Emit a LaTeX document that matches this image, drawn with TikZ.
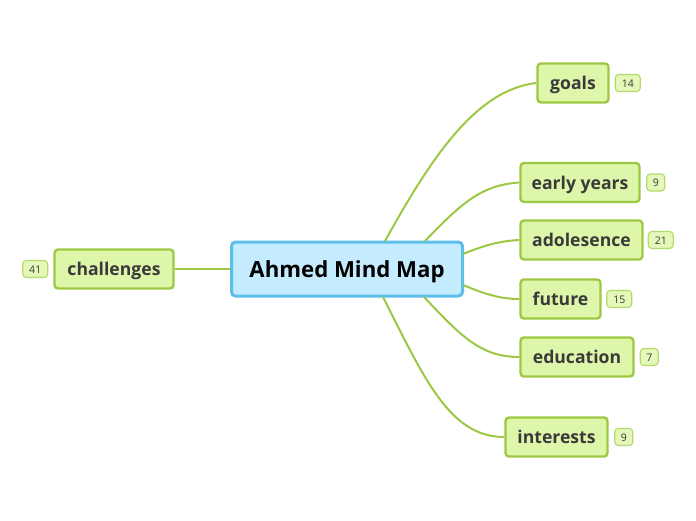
\documentclass[tikz,border=0pt]{standalone}
\usepackage{fontspec}
\setmainfont{Open Sans}
\usetikzlibrary{positioning}
\definecolor{branchfill}{HTML}{DEF6A9}
\definecolor{branchline}{HTML}{9CC843}
\definecolor{centerfill}{HTML}{C4EBFE}
\definecolor{centerline}{HTML}{5CBFEA}
\definecolor{countfill}{HTML}{E4F8BA}
\definecolor{countline}{HTML}{B3D96C}
\definecolor{labeltext}{HTML}{3A3A3A}
\tikzset{
  central/.style = {rectangle, rounded corners=4pt, draw=centerline, fill=centerfill, line width=3pt, minimum width=231pt, minimum height=54pt, inner sep=0pt, text height=16pt, text depth=0pt, font=\fontsize{22.2}{26}\selectfont\bfseries, text=black},
  topic/.style = {rectangle, rounded corners=3.5pt, draw=branchline, fill=branchfill, line width=2.4pt, minimum height=39pt, inner sep=0pt, text height=13pt, text depth=0pt, font=\fontsize{17.6}{20}\selectfont\bfseries, text=labeltext},
  count/.style = {rectangle, rounded corners=3.5pt, draw=countline, fill=countfill, line width=1.1pt, minimum height=17pt, inner sep=0pt, text height=8.5pt, text depth=0pt, font=\fontsize{10.5}{13}\selectfont, text=labeltext},
  branch/.style = {draw=branchline, line width=2pt}
}
\begin{document}
\begin{tikzpicture}[x=1pt, y=-1pt]
  \useasboundingbox (0,0) rectangle (696,520);

  % Central topic
  \node (map) [central] at (347,269) {Ahmed Mind Map};

  % Main topics
  \node (goals) [topic, minimum width=71pt] at (573,83) {goals};
  \node (early) [topic, minimum width=119pt] at (580,182.5) {early years};
  \node (adol) [topic, minimum width=122pt] at (581.5,240) {adolesence};
  \node (future) [topic, minimum width=80pt] at (560.5,299) {future};
  \node (educ) [topic, minimum width=113pt] at (577,357) {education};
  \node (inter) [topic, minimum width=102pt] at (556.5,437) {interests};
  \node (chall) [topic, minimum width=119pt] at (114,269) {challenges};

  % Counts
  \node (goalsn) [count, minimum width=25pt, right=5pt of goals] {14};
  \node (earlyn) [count, minimum width=18pt, right=5.5pt of early] {9};
  \node (adoln) [count, minimum width=25pt, right=4pt of adol] {21};
  \node (futuren) [count, minimum width=25pt, right=4.5pt of future] {15};
  \node (educn) [count, minimum width=18pt, right=5pt of educ] {7};
  \node (intern) [count, minimum width=18pt, right=5.5pt of inter] {9};
  \node (challn) [count, minimum width=25pt, left=5pt of chall] {41};

  % Connecting nodes
  \coordinate (goalsroot) at (385,241);
  \coordinate (earlyroot) at (425,241);
  \coordinate (adolroot) at (463,254);
  \coordinate (futureroot) at (463,285);
  \coordinate (educroot) at (424,297);
  \coordinate (interroot) at (383,297);
  \draw[branch] (goalsroot) .. controls (430,160) and (475,90) .. (goals.west);
  \draw[branch] (earlyroot) .. controls (460,205) and (480,185) .. (early.west);
  \draw[branch] (adolroot) .. controls (485,245) and (500,241) .. (adol.west);
  \draw[branch] (futureroot) .. controls (485,294) and (500,299) .. (future.west);
  \draw[branch] (educroot) .. controls (460,335) and (480,357) .. (educ.west);
  \draw[branch] (interroot) .. controls (425,380) and (450,437) .. (inter.west);
  \draw[branch] (chall.east) -- (map.west);
\end{tikzpicture}
\end{document}
